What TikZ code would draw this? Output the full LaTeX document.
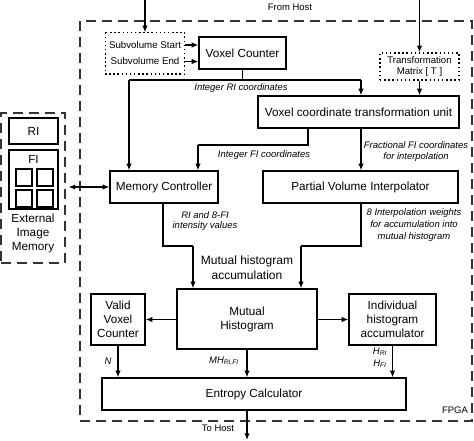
\documentclass[tikz,border=0pt]{standalone}
\usepackage{fontspec}
\setmainfont{Liberation Sans}
\usetikzlibrary{arrows.meta}

\begin{document}
\begin{tikzpicture}[x=0.75pt, y=-0.75pt, line width=0.9pt,
  blk/.style={draw, align=center, inner sep=1pt, font=\fontsize{8.8}{10.5}\selectfont},
  dotbox/.style={draw, dotted, line width=1.1pt, align=center, inner sep=1pt, font=\fontsize{7.2}{8}\selectfont},
  svline/.style={inner sep=0pt, minimum width=58.5pt, minimum height=12pt, font=\fontsize{7.3}{8}\selectfont},
  lbl/.style={align=center, inner sep=0pt, font=\fontsize{7.1}{8.4}\selectfont\itshape},
  txt/.style={align=center, inner sep=0pt, font=\fontsize{7.1}{8.4}\selectfont},
  arr/.style={-{Latex[length=5pt,width=4pt]}},
  bigdash/.style={draw=black!80, line width=1.3pt, dash pattern=on 7.5pt off 4.5pt}]

\useasboundingbox (0,0) rectangle (474,440);

% Outer boxes
\draw[bigdash] (80,21) rectangle (472,421);
\node[bigdash, minimum width=48pt, minimum height=112.5pt] (EXT) at (33,188) {};

% Nodes
\node[svline] (SVS) at (145,45) {Subvolume Start};
\node[svline] (SVE) at (145,61.5) {Subvolume End};
\draw[dotted, line width=1.1pt] ([yshift=3pt]SVS.north west) rectangle ([yshift=-3pt]SVE.south east);
\node[blk, minimum width=65.25pt, minimum height=24pt] (VC) at (242.5,53) {Voxel Counter};
\node[dotbox, minimum width=59.25pt, minimum height=20.25pt] (TM) at (419.5,66.5) {Transformation\\Matrix [ T ]};
\node[blk, minimum width=150.75pt, minimum height=24pt] (VCTU) at (358.5,112) {Voxel coordinate transformation unit};
\node[blk, minimum width=81pt, minimum height=24pt] (MC) at (164,187) {Memory Controller};
\node[blk, minimum width=146.25pt, minimum height=24pt] (PVI) at (360.5,187) {Partial Volume Interpolator};
\node[blk, minimum width=105pt, minimum height=45pt] (MH) at (247,319) {Mutual\\Histogram};
\node[blk, minimum width=40.5pt, minimum height=38.25pt] (VVC) at (118,319.5) {Valid\\Voxel\\Counter};
\node[blk, minimum width=65.25pt, minimum height=38.25pt] (IHA) at (392.5,319.5) {Individual\\histogram\\accumulator};
\node[blk, minimum width=228pt, minimum height=24pt] (EC) at (254,394) {Entropy Calculator};

% External memory
\node[blk, minimum width=36.75pt, minimum height=19.5pt] (RI) at (33.5,131) {RI};
\node[draw, minimum width=36.75pt, minimum height=44.25pt] (FI) at (33.5,179.5) {};
\node[inner sep=0pt, font=\fontsize{8.8}{10.5}\selectfont] (FIt) at (33.5,159) {FI};
\foreach \cx/\cy [count=\i] in {24/177.5, 45/177.5, 24/198.5, 45/198.5}
  \node[draw, minimum width=12pt, minimum height=12.75pt, inner sep=0pt] (FI\i) at (\cx,\cy) {};
\node[align=center, inner sep=0pt, font=\fontsize{8.8}{10.5}\selectfont] (EXTt) at (33,233) {External\\Image\\Memory};

% Points
\coordinate (in1) at (145,0);
\coordinate (in2) at (419.5,0);
\coordinate (ri) at (129,80);
\coordinate (rj) at (361,80);
\coordinate (fi) at (308,145);
\coordinate (fj) at (198,145);
\coordinate (mc1) at (163,246);
\coordinate (mc2) at (193,246);
\coordinate (pv1) at (361,246);
\coordinate (pv2) at (301,246);
\coordinate (out) at (247,440);

% Edges
\draw[arr] (in1) -- ([yshift=3pt]in1 |- SVS.north);
\draw[arr] (in2) -- (TM.north);
\draw[arr] (SVS.east) -- (SVS -| VC.west);
\draw[arr] (SVE.east) -- (SVE -| VC.west);
\draw[arr] (TM.south) -- (TM.south |- VCTU.north);

\draw (VC.south) -- (VC.south |- ri);
\draw (ri) -- (rj);
\draw[arr] (ri) -- (ri |- MC.north);
\draw[arr] (rj) -- (rj |- VCTU.north);

\draw (fi |- VCTU.south) -- (fi) -- (fj);
\draw[arr] (fj) -- (fj |- MC.north);
\draw[arr] (rj |- VCTU.south) -- (rj |- PVI.north);

\draw[{Latex[length=5pt,width=4pt]}-{Latex[length=5pt,width=4pt]}] ([xshift=2pt]EXT.east |- MC.west) -- (MC.west);

\draw (mc1 |- MC.south) -- (mc1) -- (mc2);
\draw[arr] (mc2) -- (mc2 |- MH.north);
\draw (pv1 |- PVI.south) -- (pv1) -- (pv2);
\draw[arr] (pv2) -- (pv2 |- MH.north);

\draw[arr] (MH.west |- VVC.east) -- (VVC.east);
\draw[arr] (MH.east |- IHA.west) -- (IHA.west);
\draw[arr] (VVC.south) -- (VVC.south |- EC.north);
\draw[arr] (MH.south) -- (MH.south |- EC.north);
\draw[arr] (IHA.south) -- (IHA.south |- EC.north);
\draw[arr] (out |- EC.south) -- (out);

% Labels
\node[txt] at (290,7) {From Host};
\node[lbl] at (241,88) {Integer RI coordinates};
\node[lbl] at (264,155) {Integer FI coordinates};
\node[lbl, font=\fontsize{7.1}{8.4}\selectfont\itshape] at (416,151.5) {Fractional FI coordinates\\for interpolation};
\node[lbl, font=\fontsize{7.1}{7.6}\selectfont\itshape] at (205,221) {RI and 8-FI\\intensity values};
\node[lbl, font=\fontsize{7.1}{9}\selectfont\itshape] at (414,225) {8 Interpolation weights\\for accumulation into\\mutual histogram};
\node[align=center, inner sep=0pt, font=\fontsize{9}{11.25}\selectfont] at (247,267.5) {Mutual histogram\\accumulation};
\node[lbl] at (108,361) {N};
\node[lbl] at (224,361) {MH\textsubscript{RI,FI}};
\node[lbl] at (380,352) {H\textsubscript{RI}};
\node[lbl] at (380,364) {H\textsubscript{FI}};
\node[txt] at (218,428) {To Host};
\node[txt] at (455,410) {FPGA};

\end{tikzpicture}
\end{document}
